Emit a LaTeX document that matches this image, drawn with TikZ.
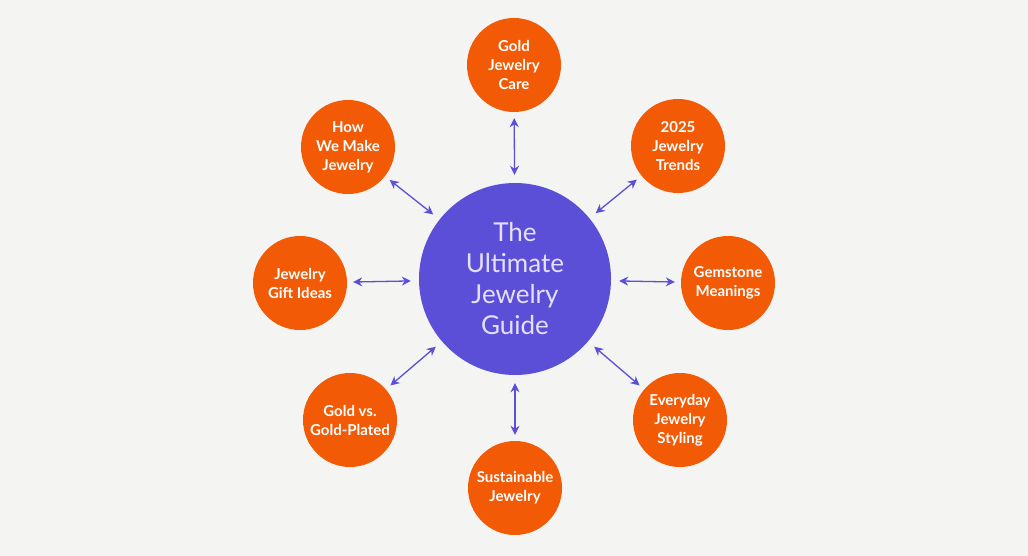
\documentclass[tikz,border=0pt]{standalone}
\usepackage{fontspec}
\setmainfont{Lato}
\usetikzlibrary{arrows.meta}
\definecolor{bg}{HTML}{F4F4F3}
\definecolor{org}{HTML}{F25A05}
\definecolor{pur}{HTML}{5B4FD8}
\definecolor{lav}{HTML}{E4E0FF}
\begin{document}
\begin{tikzpicture}[x=1pt,y=-1pt,
  leaf/.style={circle,fill=org,minimum size=94pt,inner sep=0pt,text=white,font=\bfseries\fontsize{15}{19}\selectfont,align=center},
  hub/.style={circle,fill=pur,minimum size=192pt,inner sep=0pt,text=lav,font=\fontsize{26}{31}\selectfont,align=center},
  link/.style={draw=pur,line width=1.3pt,{Stealth[length=9pt,width=9pt]}-{Stealth[length=9pt,width=9pt]},shorten <=6pt,shorten >=8pt}]
\fill[bg] (0,0) rectangle (1028,556);
\node[hub] (c) at (515,279) {The\\Ultimate\\Jewelry\\Guide};
\node[leaf] (n1) at (514,65) {Gold\\Jewelry\\Care};
\node[leaf] (n2) at (678,146) {2025\\Jewelry\\Trends};
\node[leaf] (n3) at (728,283) {Gemstone\\Meanings};
\node[leaf] (n4) at (680,420) {Everyday\\Jewelry\\Styling};
\node[leaf] (n5) at (515,488) {Sustainable\\Jewelry};
\node[leaf] (n6) at (350,420) {Gold vs.\\Gold-Plated};
\node[leaf] (n7) at (300,283) {Jewelry\\Gift Ideas};
\node[leaf] (n8) at (348,147) {How\\We Make\\Jewelry};
\foreach \i in {1,...,8} \draw[link] (n\i) -- (c);
\end{tikzpicture}
\end{document}
